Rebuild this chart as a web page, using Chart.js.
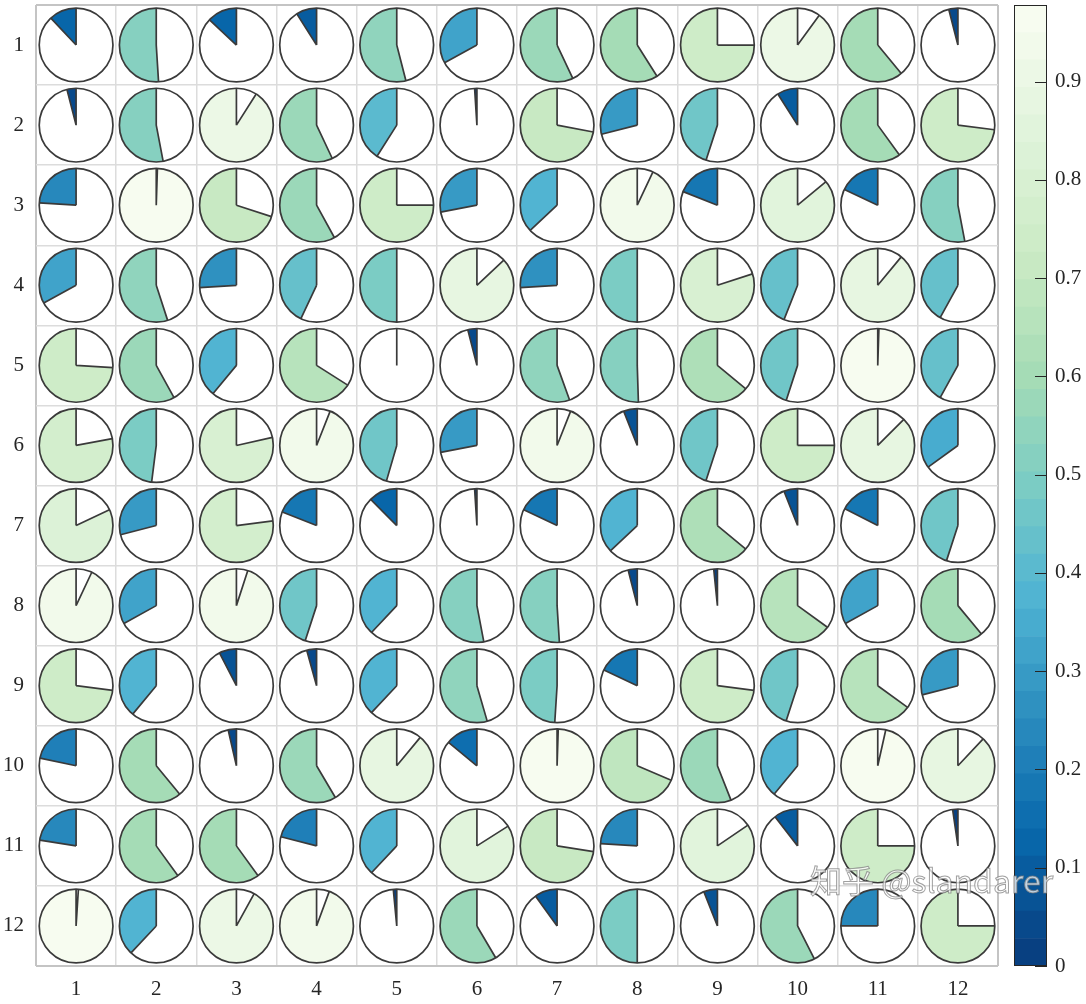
<!DOCTYPE html>
<html>
<head>
<meta charset="utf-8">
<script src="https://cdn.jsdelivr.net/npm/chart.js@4.4.1/dist/chart.umd.min.js"></script>
<style>
  html, body { margin: 0; padding: 0; background: #fff; overflow: hidden; }
  #wrap { position: relative; width: 1086px; height: 1004px; }
  #main { position: absolute; left: 0; top: 0; }
  #cbar { position: absolute; left: 1014px; top: 0; }
  #wm {
    position: absolute; left: 810px; top: 856px;
    font: 32px "Noto Sans CJK SC", "Noto Sans", sans-serif;
    color: rgba(255,255,255,0.75); -webkit-text-stroke: 1px rgba(120,120,120,0.7);
    white-space: nowrap; pointer-events: none;
  }
</style>
</head>
<body>
<div id="wrap">
  <canvas id="main" width="1086" height="1004"></canvas>
  <canvas id="cbar" width="72" height="1004"></canvas>
  <div id="wm">知乎 @slandarer</div>
</div>
<script>
// Pie grid: fraction of each cell, read row by row (row 1 at top)
const rowLabels = ['1', '2', '3', '4', '5', '6', '7', '8', '9', '10', '11', '12'];
const colLabels = ['1', '2', '3', '4', '5', '6', '7', '8', '9', '10', '11', '12'];

const row1  = [0.12, 0.51, 0.13, 0.09, 0.54, 0.33, 0.57, 0.59, 0.75, 0.90, 0.61, 0.04];
const row2  = [0.04, 0.53, 0.91, 0.57, 0.41, 0.01, 0.72, 0.29, 0.45, 0.09, 0.60, 0.73];
const row3  = [0.24, 0.995, 0.70, 0.58, 0.75, 0.28, 0.37, 0.93, 0.19, 0.86, 0.18, 0.53];
const row4  = [0.33, 0.55, 0.26, 0.43, 0.50, 0.87, 0.26, 0.50, 0.80, 0.44, 0.89, 0.42];
const row5  = [0.74, 0.58, 0.39, 0.66, 0.00, 0.04, 0.555, 0.505, 0.64, 0.45, 0.995, 0.42];
const row6  = [0.78, 0.48, 0.785, 0.94, 0.455, 0.28, 0.94, 0.06, 0.45, 0.75, 0.875, 0.35];
const row7  = [0.82, 0.29, 0.77, 0.19, 0.125, 0.01, 0.18, 0.37, 0.64, 0.06, 0.175, 0.45];
const row8  = [0.93, 0.33, 0.95, 0.45, 0.38, 0.53, 0.51, 0.04, 0.016, 0.65, 0.33, 0.61];
const row9  = [0.73, 0.39, 0.076, 0.043, 0.38, 0.545, 0.49, 0.18, 0.73, 0.45, 0.65, 0.29];
const row10 = [0.217, 0.61, 0.036, 0.585, 0.89, 0.14, 0.995, 0.686, 0.56, 0.39, 0.965, 0.88];
const row11 = [0.225, 0.60, 0.60, 0.21, 0.38, 0.84, 0.725, 0.24, 0.845, 0.105, 0.75, 0.023];
const row12 = [0.99, 0.38, 0.92, 0.944, 0.015, 0.585, 0.10, 0.50, 0.06, 0.575, 0.25, 0.75];
const fractions = [row1, row2, row3, row4, row5, row6, row7, row8, row9, row10, row11, row12];

// colour limits and colorbar ticks
const cMin = 0, cMax = 0.978;
const cbarTicks = [0, 0.1, 0.2, 0.3, 0.4, 0.5, 0.6, 0.7, 0.8, 0.9];

// reversed GnBu, quantised into nLevels steps
const gnbu = ['#084081', '#0868ac', '#2b8cbe', '#4eb3d3', '#7bccc4', '#a8ddb5', '#ccebc5', '#e0f3db', '#f7fcf0'];
const nLevels = 35;

function hexRgb(h) {
  return [parseInt(h.slice(1, 3), 16), parseInt(h.slice(3, 5), 16), parseInt(h.slice(5, 7), 16)];
}
function cmap(t) {
  const p = t * (gnbu.length - 1);
  const i = Math.min(Math.floor(p), gnbu.length - 2);
  const f = p - i;
  const a = hexRgb(gnbu[i]), b = hexRgb(gnbu[i + 1]);
  const c = a.map((v, k) => Math.round(v + (b[k] - v) * f));
  return `rgb(${c[0]},${c[1]},${c[2]})`;
}
function levelColor(k) { return cmap(k / (nLevels - 1)); }
function colorFor(v) {
  let t = (v - cMin) / (cMax - cMin);
  t = Math.max(0, Math.min(1, t));
  return levelColor(Math.min(Math.floor(t * nLevels), nLevels - 1));
}

const points = [];
fractions.forEach((row, r) => row.forEach((v, c) => {
  points.push({ x: c + 1, y: r + 1, v });
}));

const FONT = { family: '"Liberation Serif", "Times New Roman", serif', size: 21 };
const halfTicks = [];
for (let t = 0.5; t <= 12.5; t += 0.5) halfTicks.push(t);

function gridColor(ctx) {
  const v = ctx.tick ? ctx.tick.value : 0;
  if (v === 0.5 || v === 12.5) return '#c4c4c4';
  return Number.isInteger(v) ? 'rgba(0,0,0,0)' : '#dcdcdc';
}
function gridWidth(ctx) {
  const v = ctx.tick ? ctx.tick.value : 0;
  return (v === 0.5 || v === 12.5) ? 2 : 1.5;
}
// no extra room for overflowing tick labels, so the plot area sits where the padding says
function noOverflow(s) {
  s.paddingTop = 0; s.paddingBottom = 0; s.paddingLeft = 0; s.paddingRight = 0;
}

const piePlugin = {
  id: 'pies',
  afterDatasetsDraw(chart) {
    const ctx = chart.ctx;
    const xs = chart.scales.x;
    const r = 0.46 * Math.abs(xs.getPixelForValue(2) - xs.getPixelForValue(1));
    const meta = chart.getDatasetMeta(0);
    ctx.save();
    meta.data.forEach((el, i) => {
      const v = points[i].v;
      const x = el.x, y = el.y;
      const a0 = -Math.PI / 2, a1 = a0 - 2 * Math.PI * v;
      ctx.beginPath();
      ctx.arc(x, y, r, 0, Math.PI * 2);
      ctx.fillStyle = '#ffffff';
      ctx.fill();
      if (v > 0) {
        ctx.beginPath();
        ctx.moveTo(x, y);
        ctx.arc(x, y, r, a0, a1, true);
        ctx.closePath();
        ctx.fillStyle = colorFor(v);
        ctx.fill();
      }
      ctx.strokeStyle = '#3a3a3a';
      ctx.lineWidth = 1.7;
      ctx.beginPath();
      ctx.moveTo(x, y);
      ctx.lineTo(x, y - r);
      ctx.moveTo(x, y);
      ctx.lineTo(x + r * Math.cos(a1), y + r * Math.sin(a1));
      ctx.stroke();
      ctx.beginPath();
      ctx.arc(x, y, r, 0, Math.PI * 2);
      ctx.stroke();
    });
    ctx.restore();
  }
};

new Chart(document.getElementById('main'), {
  type: 'scatter',
  data: { datasets: [{ data: points, pointRadius: 0, pointHoverRadius: 0 }] },
  options: {
    responsive: false,
    devicePixelRatio: 1,
    animation: false,
    events: [],
    layout: { padding: { top: 5, right: 88, left: 0, bottom: 0 } },
    plugins: { legend: { display: false }, tooltip: { enabled: false } },
    scales: {
      x: {
        type: 'linear', position: 'bottom', min: 0.5, max: 12.5,
        afterBuildTicks: s => { s.ticks = halfTicks.map(v => ({ value: v })); },
        afterFit: s => { s.height = 38; noOverflow(s); },
        border: { display: false },
        grid: { color: gridColor, lineWidth: gridWidth, drawTicks: false },
        ticks: {
          autoSkip: false, maxRotation: 0, padding: 11, color: '#262626', font: FONT,
          callback: v => Number.isInteger(v) ? colLabels[v - 1] : ''
        }
      },
      y: {
        type: 'linear', reverse: true, min: 0.5, max: 12.5,
        afterBuildTicks: s => { s.ticks = halfTicks.map(v => ({ value: v })); },
        afterFit: s => { s.width = 36; noOverflow(s); },
        border: { display: false },
        grid: { color: gridColor, lineWidth: gridWidth, drawTicks: false },
        ticks: {
          autoSkip: false, padding: 12, color: '#262626', font: FONT,
          callback: v => Number.isInteger(v) ? rowLabels[v - 1] : ''
        }
      }
    }
  },
  plugins: [piePlugin]
});

// colorbar: stacked bands, one per colormap level
const bandSize = (cMax - cMin) / nLevels;
const bands = [];
for (let k = 0; k < nLevels; k++) {
  bands.push({ data: [bandSize], backgroundColor: levelColor(k), borderWidth: 0,
               barPercentage: 1, categoryPercentage: 1 });
}

const cbarFrame = {
  id: 'cbarFrame',
  afterDraw(chart) {
    const { ctx, chartArea: a } = chart;
    const ys = chart.scales.y;
    ctx.save();
    ctx.strokeStyle = '#262626';
    ctx.lineWidth = 1;
    ctx.strokeRect(a.left + 0.5, a.top + 0.5, a.right - a.left - 1, a.bottom - a.top - 1);
    ctx.beginPath();
    cbarTicks.forEach(t => {
      const py = Math.round(ys.getPixelForValue(t)) + 0.5;
      ctx.moveTo(a.right - 12, py);
      ctx.lineTo(a.right, py);
    });
    ctx.stroke();
    ctx.restore();
  }
};

new Chart(document.getElementById('cbar'), {
  type: 'bar',
  data: { labels: ['c'], datasets: bands },
  options: {
    responsive: false,
    devicePixelRatio: 1,
    animation: false,
    events: [],
    layout: { padding: { top: 5, bottom: 38, left: 0, right: 0 } },
    plugins: { legend: { display: false }, tooltip: { enabled: false } },
    scales: {
      x: { display: false, stacked: true },
      y: {
        position: 'right', stacked: true, min: cMin, max: cMax,
        afterBuildTicks: s => { s.ticks = cbarTicks.map(v => ({ value: v })); },
        afterFit: s => { s.width = 39; noOverflow(s); },
        border: { display: false },
        grid: { drawOnChartArea: false, drawTicks: false },
        ticks: { padding: 8, color: '#262626', font: FONT, callback: v => String(v) }
      }
    }
  },
  plugins: [cbarFrame]
});
</script>
</body>
</html>
